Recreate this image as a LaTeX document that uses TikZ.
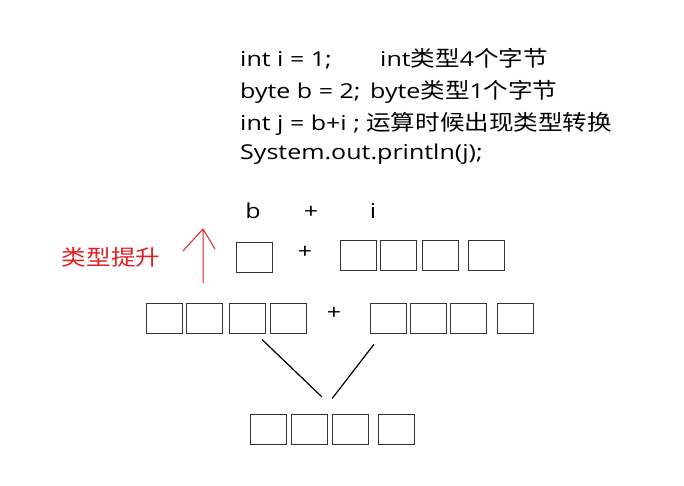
\documentclass[tikz,border=0pt]{standalone}
\usepackage{fontspec}
\setmainfont{Open Sans}[FakeStretch=1.22]
\newfontfamily\cjk{Noto Sans CJK SC}[Scale=1.05,FakeStretch=1.14]
\definecolor{upred}{RGB}{225,30,35}
\begin{document}
\begin{tikzpicture}[x=1pt,y=-1pt,font=\fontsize{20.5}{25}\selectfont,
	cell/.style={draw=black!80,line width=1pt,minimum width=36pt,minimum height=30pt,inner sep=0pt},
	code/.style={anchor=base west,inner sep=0pt}]
	\useasboundingbox (0,0) rectangle (684,486);
	% the four lines of code
	\node[code] (L1) at (240,67) {int i = 1;};
	\node[code] (C1) at (380,67) {int{\cjk 类型}4{\cjk 个字节}};
	\node[code] (L2) at (240,99) {byte b = 2;};
	\node[code] (C2) at (370,99) {byte{\cjk 类型}1{\cjk 个字节}};
	\node[code] (L3) at (240,131) {int j = b+i ; {\cjk 运算时候出现类型转换}};
	\node[code] (L4) at (240,160) {System.out.println(j);};
	% b + i
	\node (b) at (253,211) {b};
	\node (p0) at (311,212) {+};
	\node (i) at (373,211) {i};
	% boxes
	\foreach \n/\x/\y in {B/254.5/257,I1/358.3/255.3,I2/398.7/255.3,I3/440.2/255.3,I4/486.7/255.3,
		P1/164.2/318,P2/204.2/318,P3/247.5/318,P4/288.7/318,
		Q1/388.3/318,Q2/428.7/318,Q3/468.7/318,Q4/515.8/318,
		R1/268.5/429.7,R2/309.5/429.7,R3/350/429.7,R4/396.8/429.7}
		\node[cell] (\n) at (\x,\y) {};
	\node (p1) at (305,252) {+};
	\node (p2) at (334,313) {+};
	% promotion arrow
	\node[text=upred,font=\cjk\fontsize{20.5}{25}\selectfont] (up) at (111,257) {类型提升};
	\path (203,283) coordinate (T) (203,229) coordinate (H) (183,251) coordinate (H1) (215,249) coordinate (H2);
	\draw[upred,line width=1pt] (T)--(H) (H1)--(H)--(H2);
	% merge lines
	\path (321.7,396.7) coordinate (M1) (332.3,398.3) coordinate (M2);
	\draw[line width=1.2pt] (P3.south east)++(-4,6) -- (M1);
	\draw[line width=1.2pt] (Q1.south west)++(4,11) -- (M2);
\end{tikzpicture}
\end{document}
